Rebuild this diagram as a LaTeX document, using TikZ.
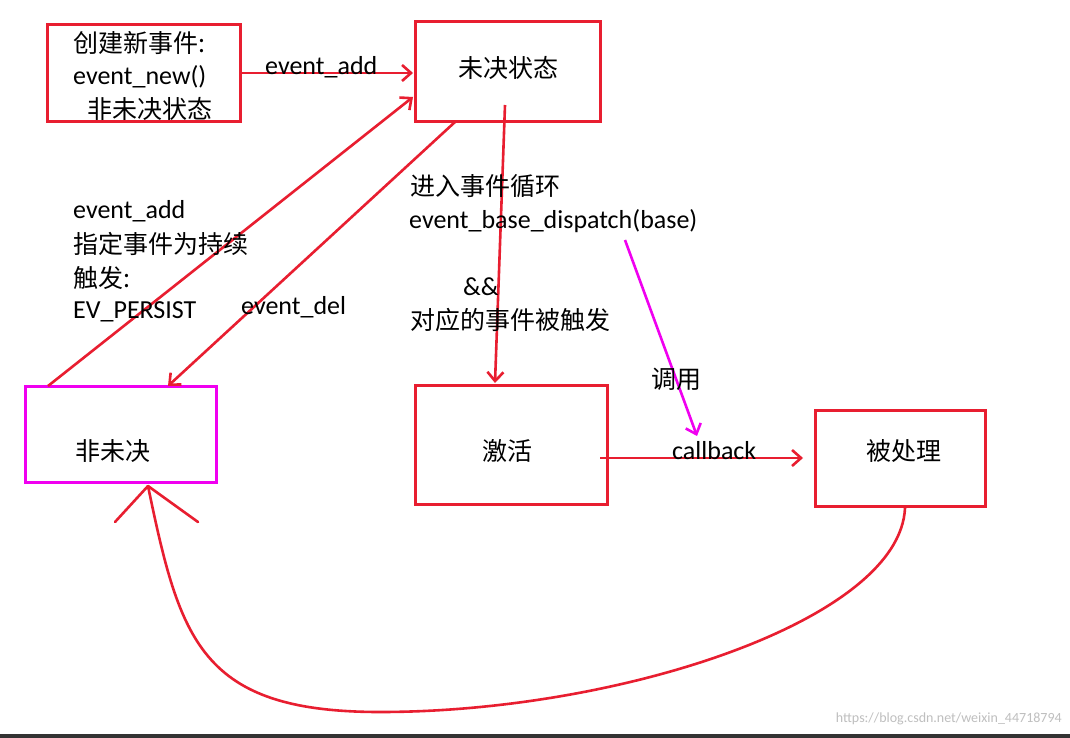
\documentclass[tikz,border=0pt]{standalone}
\usepackage{fontspec}
\setmainfont{Carlito}
\newfontfamily\cjk{Noto Sans CJK SC}
\usetikzlibrary{arrows.meta}
\definecolor{rd}{RGB}{232,30,48}
\definecolor{mg}{RGB}{240,0,240}
\begin{document}
\begin{tikzpicture}[x=1pt,y=-1pt,
  bx/.style={draw=rd,line width=3pt},
  ar/.style={draw=rd,line width=2.6pt,-{Straight Barb[length=9pt,width=16pt]}},
  tx/.style={font=\fontsize{26}{30}\selectfont,anchor=west,inner sep=0pt},
  cn/.style={font=\cjk\fontsize{25}{30}\selectfont,anchor=west,inner sep=0pt}]
\useasboundingbox[fill=white] (0,0) rectangle (1070,738);
\fill[black!80] (0,734) rectangle (1070,738);
\draw[bx] (47,25) rectangle (240,122);
\node[cn] (c1) at (73,43) {创建新事件:};
\node[tx] (c2) at (73,77) {event\_new()};
\node[cn] (c3) at (87,109) {非未决状态};
\draw[bx] (415,22) rectangle (600,122);
\node[cn] (p) at (458,68) {未决状态};
\draw[draw=mg,line width=3pt] (25,386) rectangle (216,482);
\node[cn] (n) at (75,451) {非未决};
\draw[bx] (415,385) rectangle (607,504);
\node[cn] (a) at (482,451) {激活};
\draw[bx] (815,410) rectangle (985,506);
\node[cn] (h) at (866,451) {被处理};
\coordinate (e1) at (240,73); \coordinate (e2) at (413,73);
\draw[ar] (e1) -- (e2);
\node[tx] at (265,67) {event\_add};
\coordinate (f1) at (48,386); \coordinate (f2) at (413,97);
\draw[ar] (f1) -- (f2);
\coordinate (g1) at (455,122); \coordinate (g2) at (168,386);
\draw[ar] (g1) -- (g2);
\node[tx] at (241,307) {event\_del};
\coordinate (k1) at (505,105); \coordinate (k2) at (495,383);
\draw[ar] (k1) -- (k2);
\coordinate (m1) at (625,240); \coordinate (m2) at (697,436);
\draw[draw=mg,line width=2.6pt,-{Straight Barb[length=9pt,width=16pt]}] (m1) -- (m2);
\coordinate (q1) at (600,458); \coordinate (q2) at (803,458);
\draw[ar] (q1) -- (q2);
\node[tx] at (672,451) {callback};
\coordinate (r1) at (905,508); \coordinate (r2) at (148,486);
\draw[draw=rd,line width=2.6pt] (r1) .. controls (900,620) and (620,712) .. (380,712)
  .. controls (200,712) and (180,640) .. (r2);
\draw[draw=rd,line width=2.6pt,line cap=round,line join=round] (115,522) -- (148,486) -- (198,522);
\node[tx] at (73,211) {event\_add};
\node[cn] at (73,244) {指定事件为持续};
\node[cn] at (73,278) {触发:};
\node[tx] at (73,312) {EV\_PERSIST};
\node[cn] at (410,186) {进入事件循环};
\node[tx] at (409,221) {event\_base\_dispatch(base)};
\node[tx] at (463,287) {\&\&};
\node[cn] at (410,320) {对应的事件被触发};
\node[cn] at (651,379) {调用};
\node[font=\fontsize{14}{16}\selectfont,text=black!25,anchor=east,inner sep=0pt] at (1062,719) {https://blog.csdn.net/weixin\_44718794};
\end{tikzpicture}
\end{document}
